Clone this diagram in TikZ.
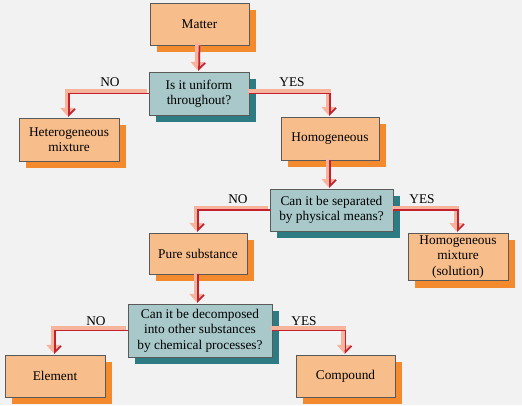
\documentclass[tikz,border=0pt]{standalone}
\usepackage{fontspec}
\setmainfont{Liberation Serif}
\usepackage{tikz}
\usetikzlibrary{arrows.meta,positioning,shadows}
\definecolor{paper}{HTML}{F2F2F2}
\definecolor{peach}{HTML}{F7BE8C}
\definecolor{deeporange}{HTML}{F38A2E}
\definecolor{slate}{HTML}{A8C8CA}
\definecolor{deepteal}{HTML}{2E7C83}
\definecolor{framegray}{HTML}{5A5A5A}
\definecolor{linkred}{HTML}{C4202E}
\definecolor{linkpink}{HTML}{F6B49C}

\begin{document}
\begin{tikzpicture}[
    x=0.75pt, y=-0.75pt,
    state/.style={draw=framegray, line width=0.5pt, fill=peach, align=center, inner sep=2pt,
        font=\fontsize{10}{11.5}\selectfont,
        drop shadow={shadow xshift=5.25pt, shadow yshift=-5.25pt, fill=deeporange, opacity=1}},
    query/.style={state, fill=slate,
        drop shadow={shadow xshift=5.25pt, shadow yshift=-5.25pt, fill=deepteal, opacity=1}},
    answer/.style={font=\fontsize{10}{11}\selectfont, inner sep=1pt},
    flow/.style={draw=linkred, line width=1.3pt, shorten >=0.6pt,
        -{Straight Barb[left, length=4.5pt, width=9pt, line width=1.3pt]},
        preaction={draw=linkpink, line width=4pt, shorten >=0pt,
            transform canvas={xshift=-1.3pt, yshift=1.3pt},
            -{Triangle[length=6pt,width=10pt]}}}
]
\fill[paper] (0,0) rectangle (522,405);
\useasboundingbox (0,0) rectangle (522,405);

\node[state, minimum width=74.25pt, minimum height=31.5pt] (matter) at (199.5,24) {Matter};
\node[query, minimum width=75pt, minimum height=32.25pt] (uniform) at (199,93.5) {Is it uniform\\throughout?};
\node[state, minimum width=75pt, minimum height=32.25pt] (hetero) at (69,139.5) {Heterogeneous\\mixture};
\node[state, minimum width=73.5pt, minimum height=32.25pt] (homo) at (330,138.5) {Homogeneous};
\node[query, minimum width=92.25pt, minimum height=31.5pt] (separate) at (331.5,210) {Can it be separated\\by physical means?};
\node[state, minimum width=73.5pt, minimum height=30.75pt] (pure) at (198,253.5) {Pure substance};
\node[state, minimum width=75pt, minimum height=34.5pt] (solution) at (458,257) {Homogeneous\\mixture\\(solution)};
\node[query, minimum width=108pt, minimum height=39.75pt] (decomp) at (200,330.5) {Can it be decomposed\\into other substances\\by chemical processes?};
\node[state, minimum width=75pt, minimum height=31.5pt] (element) at (55,376) {Element};
\node[state, minimum width=74.25pt, minimum height=31.5pt] (compound) at (345.5,376) {Compound};

\node[answer] (no1) at (110,82) {NO};
\node[answer] (yes1) at (292,82) {YES};
\node[answer] (no2) at (238,199) {NO};
\node[answer] (yes2) at (422,199) {YES};
\node[answer] (no3) at (96,321) {NO};
\node[answer] (yes3) at (304,321) {YES};

\draw[flow] (matter.south) -- (uniform.north);
\draw[flow] (uniform.west) -| (hetero.north);
\draw[flow] (uniform.east) -| (homo.north);
\draw[flow] (homo.south) -- (homo.south |- separate.north);
\draw[flow] (separate.west) -| (pure.north);
\draw[flow] (separate.east) -| (solution.north);
\draw[flow] (pure.south) -- (pure.south |- decomp.north);
\draw[flow] (decomp.west) -| (element.north);
\draw[flow] (decomp.east) -| (compound.north);
\end{tikzpicture}
\end{document}
